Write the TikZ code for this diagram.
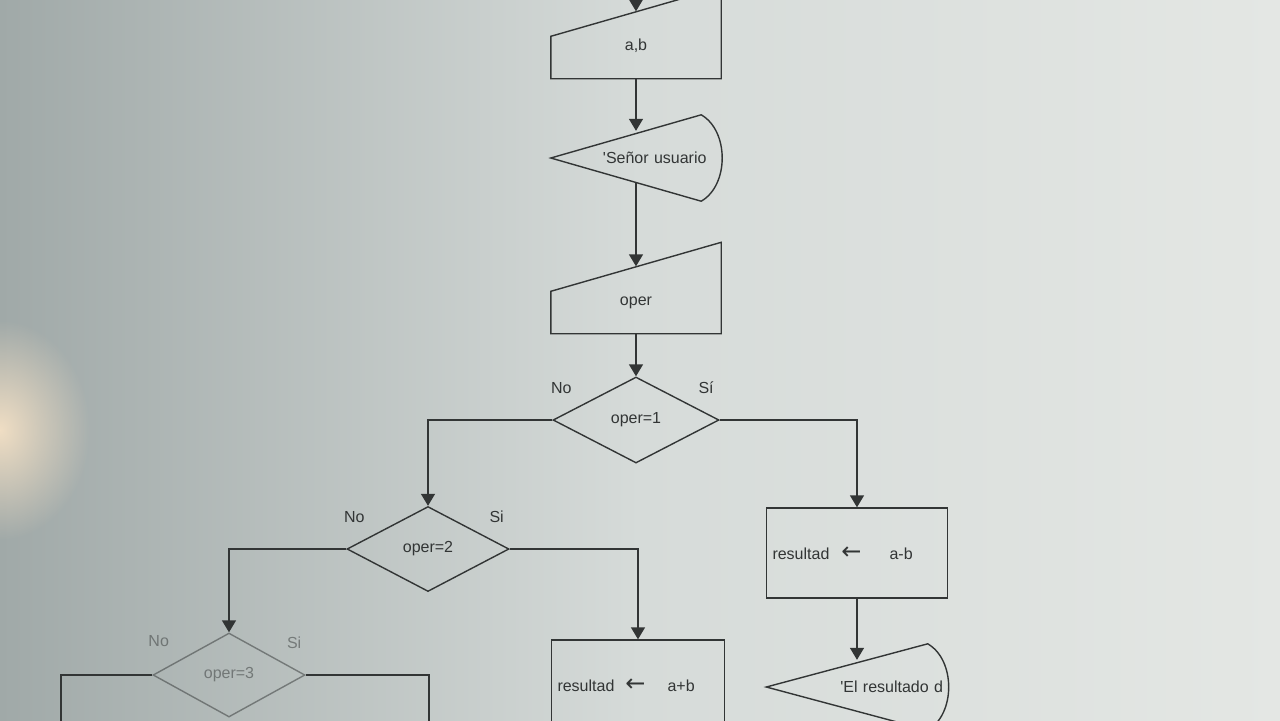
\documentclass[tikz,border=0pt]{standalone}
\usepackage{fontspec}
\setmainfont{Liberation Sans}
\newfontfamily\arrowfont{DejaVu Sans}
\usetikzlibrary{arrows.meta,positioning,calc,shapes.geometric,fadings}

\definecolor{ink}{RGB}{50,53,53}
\definecolor{bgleft}{RGB}{160,169,168}
\definecolor{bgmid}{RGB}{214,219,217}
\definecolor{bgright}{RGB}{228,231,228}
\definecolor{glow}{RGB}{240,222,196}
\tikzfading[name=glowfade,inner color=transparent!0,outer color=transparent!100]
\newcommand{\assign}{{\arrowfont\fontsize{12pt}{12pt}\selectfont ←}}

\begin{document}
\begin{tikzpicture}[x=0.5pt,y=-0.5pt,->,>={Triangle[length=6pt,width=7pt]},
                    line width=0.7pt,color=ink,
                    font=\fontsize{8pt}{9.5pt}\selectfont]
  \tikzset{
    every node/.style={inner sep=0pt},
    main/.style={on grid},
    input/.style={minimum width=84.5pt,minimum height=45pt,text height=31pt,text depth=14pt},
    disp/.style={minimum width=84.5pt,minimum height=42.5pt,text width=70.5pt,align=right},
    decision/.style={diamond,draw,aspect=2,minimum width=83pt,minimum height=43pt},
    proc/.style={rectangle,draw,minimum height=45pt,inner xsep=3pt,align=left},
    slanted/.style={shorten >=-12pt},
    curved/.style={shorten >=-8pt},
    faded/.style={opacity=0.5}
  }

  % frame and screen
  \useasboundingbox (0,0) rectangle (1280,720);
  \clip (0,0) rectangle (1280,720);
  \shade[left color=bgleft,right color=bgright,middle color=bgmid] (0,0) rectangle (1280,720);
  \fill[glow,path fading=glowfade] (0,430) ellipse (90 and 110);

  % nodes
  \node[input] (ab) at (636,33) {a,b};
  \node[disp,main,below=62.5pt of ab] (usr) {\textquotesingle Se\~nor usuario};
  \node[input,main,below=65pt of usr] (oper) {oper};
  \node[decision,main,below=66pt of oper] (d1) {oper=1};
  \node[proc,text width=84.5pt,main,below right=66.5pt and 110.5pt of d1] (rsub)
    {resultad\hspace{6pt}\assign\hspace{14pt}a-b};
  \node[disp,minimum width=90pt,text width=86pt,main,below=67pt of rsub] (msg)
    {\textquotesingle El resultado d};
  \node[decision,minimum width=81pt,minimum height=42.5pt,main,below left=64.5pt and 104pt of d1] (d2) {oper=2};
  \node[proc,text width=80.5pt,main,below right=68pt and 105pt of d2] (rsum)
    {resultad\hspace{5.5pt}\assign\hspace{11pt}a+b};
  \node[decision,faded,minimum width=76pt,minimum height=42pt,main,below left=63pt and 99.5pt of d2] (d3) {oper=3};

  \node[above left=2pt and 11pt of d1.north west] (no1) {No};
  \node[above right=2pt and 10pt of d1.north east] (si1) {Sí};
  \node[above left=2pt and 11pt of d2.north west] (no2) {No};
  \node[above right=2pt and 10pt of d2.north east] (si2) {Si};
  \node[faded,above left=3pt and 10.5pt of d3.north west] (no3) {No};
  \node[faded,above right=2pt and 9.5pt of d3.north east] (si3) {Si};

  % outlines of input and display boxes
  \foreach \n in {ab,oper}
    \draw[-] (\n.south west) -- (\n.south east) -- (\n.north east)
      -- ($(\n.north west)+(0,-24.5pt)$) -- cycle;
  \foreach \n in {usr,msg}
    \draw[-] (\n.west) -- ($(\n.north east)+(-10pt,0)$)
      .. controls ($(\n.north east)+(4pt,-8pt)$) and ($(\n.south east)+(4pt,8pt)$)
      .. ($(\n.south east)+(-10pt,0)$) -- cycle;

  % connectors
  \coordinate (start) at (636,-30);
  \coordinate (endl) at (61,760);
  \coordinate (endr) at (429,760);

  \draw[slanted] (start) -- (ab);
  \draw[curved] (ab) -- (usr);
  \draw[slanted,shorten <=-9pt] (usr) -- (oper);
  \draw (oper) -- (d1);
  \draw (d1) -| (d2);
  \draw (d1) -| (rsub);
  \draw[curved] (rsub) -- (msg);
  \draw (d2) -| (d3);
  \draw (d2) -| (rsum);
  \draw[-] (d3) -| (endl);
  \draw[-] (d3) -| (endr);
\end{tikzpicture}
\end{document}
